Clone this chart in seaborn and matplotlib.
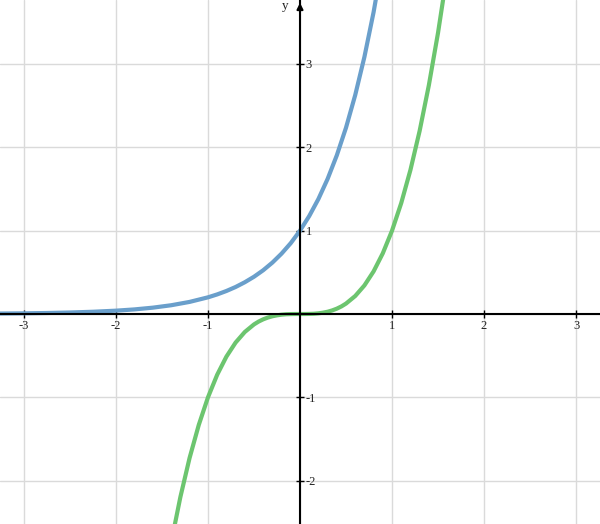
import matplotlib
matplotlib.use("Agg")
import matplotlib.pyplot as plt
import seaborn as sns
import pandas as pd

# Values
exp_x = [-3.3, -3.0, -2.75, -2.5, -2.25, -2.0, -1.8, -1.6, -1.4, -1.2, -1.0, -0.9, -0.8, -0.7,
         -0.6, -0.5, -0.4, -0.3, -0.2, -0.1, 0.0, 0.1, 0.2, 0.3, 0.4, 0.5, 0.6, 0.7, 0.8, 0.9]
exp_y = [0.005, 0.008, 0.012, 0.018, 0.027, 0.040, 0.055, 0.076, 0.105, 0.145, 0.200, 0.235,
         0.276, 0.324, 0.381, 0.447, 0.525, 0.617, 0.725, 0.851, 1.000, 1.175, 1.380, 1.621,
         1.904, 2.236, 2.627, 3.085, 3.624, 4.257]

cub_x = [-1.4, -1.3, -1.2, -1.1, -1.0, -0.9, -0.8, -0.7, -0.6, -0.5, -0.45, -0.4, -0.35, -0.3,
         -0.25, -0.2, -0.15, -0.1, -0.05, 0.0, 0.05, 0.1, 0.15, 0.2, 0.25, 0.3, 0.35, 0.4,
         0.45, 0.5, 0.6, 0.7, 0.8, 0.9, 1.0, 1.1, 1.2, 1.3, 1.4, 1.5, 1.6]
cub_y = [-2.744, -2.197, -1.728, -1.331, -1.000, -0.729, -0.512, -0.343, -0.216, -0.125,
         -0.091, -0.064, -0.043, -0.027, -0.016, -0.008, -0.003, -0.001, 0.000, 0.000,
         0.000, 0.001, 0.003, 0.008, 0.016, 0.027, 0.043, 0.064, 0.091, 0.125, 0.216,
         0.343, 0.512, 0.729, 1.000, 1.331, 1.728, 2.197, 2.744, 3.375, 4.096]

x_ticks = [-3, -2, -1, 1, 2, 3]
y_ticks = [-2, -1, 1, 2, 3]
grid_x = [-3, -2, -1, 0, 1, 2, 3]
grid_y = [-2, -1, 0, 1, 2, 3]

sns.set_theme(style="white")
plt.rcParams['font.family'] = ['Liberation Serif', 'DejaVu Serif']

fig = plt.figure(figsize=(6.0, 5.24), dpi=100)
ax = fig.add_axes([0, 0, 1, 1])
ax.set_xlim(-3.26, 3.26)
ax.set_ylim(-2.52, 3.768)

for g in grid_x:
    ax.axvline(g, color="#dadada", lw=1.0, zorder=0)
for g in grid_y:
    ax.axhline(g, color="#dadada", lw=1.0, zorder=0)

df_exp = pd.DataFrame({"x": exp_x, "y": exp_y})
df_cub = pd.DataFrame({"x": cub_x, "y": cub_y})
sns.lineplot(data=df_exp, x="x", y="y", ax=ax, color="#6a9fcb", lw=3.0, zorder=3,
             sort=False, estimator=None)
sns.lineplot(data=df_cub, x="x", y="y", ax=ax, color="#6cc56f", lw=3.0, zorder=3,
             sort=False, estimator=None)

# axes through origin
ax.spines['top'].set_visible(False)
ax.spines['left'].set_visible(False)
ax.spines['bottom'].set_position(('data', 0))
ax.spines['right'].set_position(('data', 0))
for s in ('bottom', 'right'):
    ax.spines[s].set_color('black')
    ax.spines[s].set_linewidth(1.5)
    ax.spines[s].set_zorder(4)
ax.xaxis.set_ticks_position('bottom')
ax.yaxis.set_ticks_position('right')
ax.set_xticks(x_ticks)
ax.set_yticks(y_ticks)
ax.set_xticklabels([str(t) for t in x_ticks])
ax.set_yticklabels([str(t) for t in y_ticks])
ax.tick_params(axis='both', direction='inout', length=6, width=1.0, color='black',
               labelsize=9, labelcolor='#222222')
ax.tick_params(axis='x', pad=1)
ax.tick_params(axis='y', pad=1)
ax.set_xlabel("")
ax.set_ylabel("")

# arrow at top of y axis
ax.annotate("", xy=(0, 3.768), xytext=(0, 3.6),
            arrowprops=dict(arrowstyle="-|>", color="black", lw=1.5,
                            mutation_scale=9), zorder=5, annotation_clip=False)
ax.text(-0.12, 3.70, "y", ha="right", va="center", fontsize=9.5, color="#222222")

fig.savefig("out.png", dpi=100)
